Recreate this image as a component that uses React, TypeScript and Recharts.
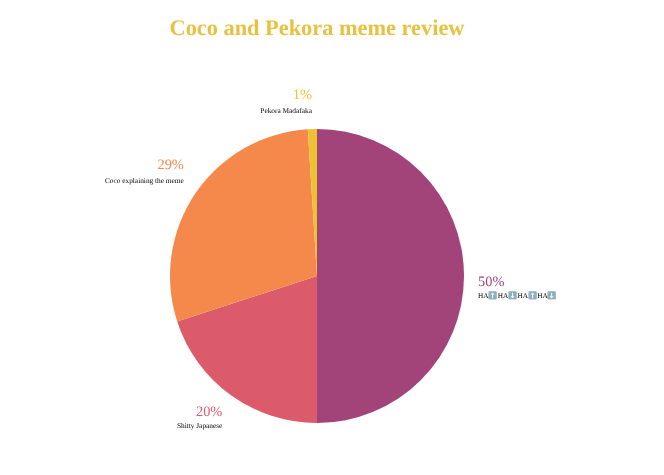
import React from 'react';
import { PieChart, Pie, Cell } from 'recharts';

const names = ['HA⬆️HA⬇️HA⬆️HA⬇️', 'Shitty Japanese', 'Coco explaining the meme', 'Pekora Madafaka'];
const values = [50, 20, 29, 1];
const colors = ['#a2437a', '#dc5b6a', '#f5894b', '#ecc232'];
const titleColor = '#e9c13f';

const data = names.map((name, i) => ({ name, value: values[i] }));
const FONT = '"Liberation Serif", "Times New Roman", serif';

const PieLabel = (props: any) => {
  const { cx, cy, midAngle, outerRadius, index } = props;
  const r = outerRadius + 14;
  const rad = (midAngle * Math.PI) / 180;
  const x = cx + r * Math.cos(rad);
  const y = cy - r * Math.sin(rad);
  const right = x > cx;
  const below = y >= cy;
  // labels in the lower half hang under the anchor, upper ones sit above it
  const pctY = below ? y + 9.5 : y - 16.5;
  const nameY = below ? y + 22 : y - 2.5;
  return (
    <g
      textAnchor={right ? 'start' : 'end'}
      fontFamily={FONT}
      style={{ textRendering: 'geometricPrecision' }}
    >
      <text x={x} y={pctY} fontSize={14.4} fill={colors[index]}>
        {values[index]}%
      </text>
      <text x={x} y={nameY} fontSize={7.35} fill="#000">
        {names[index]}
      </text>
    </g>
  );
};

export default function App() {
  return (
    <div style={{ position: 'absolute', left: 0, top: 0, width: 664, height: 475, background: '#fff' }}>
      <div
        style={{
          position: 'absolute',
          left: 0,
          top: 14,
          width: 634,
          textAlign: 'center',
          fontFamily: FONT,
          fontWeight: 700,
          fontSize: 22.35,
          color: titleColor,
          lineHeight: '28px',
          willChange: 'transform',
          textRendering: 'geometricPrecision',
        }}
      >
        Coco and Pekora meme review
      </div>
      <div style={{ position: 'absolute', left: 0, top: 0, willChange: 'transform' }}>
        <PieChart width={664} height={475} margin={{ top: 0, right: 0, bottom: 0, left: 0 }}>
          <Pie
            data={data}
            dataKey="value"
            nameKey="name"
            cx={317}
            cy={276}
            innerRadius={0}
            outerRadius={147}
            startAngle={90}
            endAngle={-270}
            stroke="none"
            label={PieLabel}
            labelLine={false}
            isAnimationActive={false}
          >
            {data.map((d, i) => (
              <Cell key={d.name} fill={colors[i]} />
            ))}
          </Pie>
        </PieChart>
      </div>
    </div>
  );
}
